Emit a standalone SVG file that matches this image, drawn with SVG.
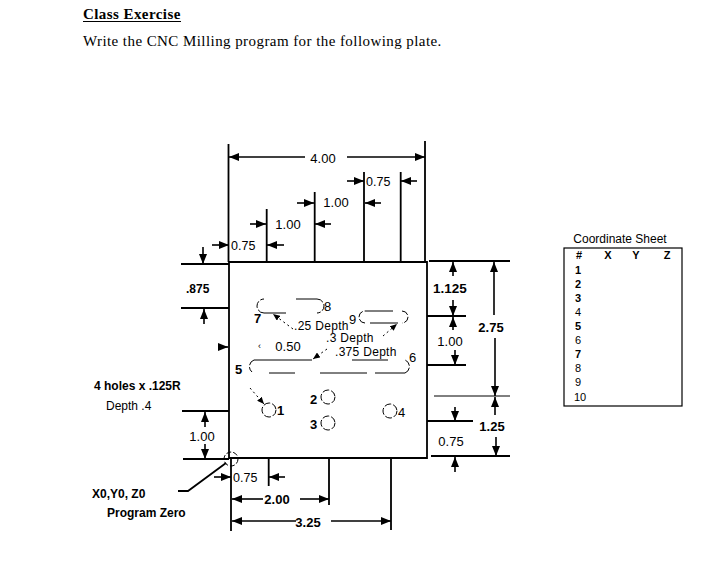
<svg xmlns="http://www.w3.org/2000/svg" width="710" height="566" viewBox="0 0 710 566">
<defs>
<marker id="a" viewBox="0 0 10 8" refX="10" refY="4" markerWidth="10" markerHeight="8" markerUnits="userSpaceOnUse" orient="auto-start-reverse"><path d="M0 0L10 4L0 8Z" fill="#000"/></marker>
<marker id="s" viewBox="0 0 7 6" refX="7" refY="3" markerWidth="7" markerHeight="6" markerUnits="userSpaceOnUse" orient="auto"><path d="M0 0L7 3L0 6Z" fill="#000"/></marker>
</defs>
<style>
text{font-family:"Liberation Sans",Arial,sans-serif;font-size:13px;fill:#000}
text.t{font-family:"Liberation Serif","Times New Roman",serif;font-size:15px;letter-spacing:.43px}
text.s9{font-size:9px}
text.s11{font-size:11px}
text.s12{font-size:12px}
text.dp{font-size:12px;letter-spacing:.3px}
text.s125{font-size:12.5px}
text.s135{font-size:13.5px}
.b{font-weight:bold}
.c{text-anchor:middle}
.l{stroke:#000;stroke-width:1.8;fill:none}
.f{stroke:#000;stroke-width:1;fill:none}
.d{stroke:#000;stroke-width:1.6;fill:none;marker-end:url(#a)}
.h{stroke:#000;stroke-width:1;fill:none;stroke-dasharray:7 2}
.o{stroke:#000;stroke-width:1;fill:none;stroke-dasharray:5 2}
.g{stroke:#000;stroke-width:1;fill:none;stroke-dasharray:2 3;marker-end:url(#s)}
</style>
<rect width="710" height="566" fill="#fff"/>
<g id="heading">
<text class="t b" x="83" y="19">Class Exercise</text>
<path d="M83 21.500H181" stroke="#000" stroke-width="1"/>
<text class="t" x="83" y="46">Write the CNC Milling program for the following plate.</text>
</g>
<g id="plate">
<path class="l" d="M229 262H427V458H229Z"/>
</g>
<g id="connectors">
<path class="l" d="M228.500 144V262M425 141V262M266.700 209V262M314.700 192V262M364 172V262M400.700 172V262"/>
<path class="l" d="M181 264H229M181 308H229M182 411H229M183 459H229"/>
<path class="l" d="M429 261H510M427 316H466M427 365H466M427 421H473M431 456H510"/>
<path class="f" d="M434 396H510"/>
<path class="l" d="M231 458V531M268.700 458V486M329 458V505M391 458V530"/>
<path class="d" d="M305 157H229"/><path class="d" d="M347 157H425"/>
<path class="d" d="M347 181H364"/><path class="d" d="M417 181H401"/>
<path class="d" d="M297 203H314"/><path class="d" d="M381 203H365"/>
<path class="d" d="M250 224H266"/><path class="d" d="M331 224H315"/>
<path class="d" d="M212 245H229"/><path class="d" d="M284 245H267"/>
<path class="d" d="M203 247V264"/><path class="d" d="M204 324V309"/>
<path class="d" d="M220 347H228"/>
<path class="d" d="M205 427V412"/><path class="d" d="M205 444V459"/>
<path class="d" d="M214 477H231"/><path class="d" d="M285 477H269"/>
<path class="d" d="M263 499H232"/><path class="d" d="M300 499H329"/>
<path class="d" d="M296 521H232"/><path class="d" d="M331 521H391"/>
<path class="d" d="M453 276V262"/><path class="d" d="M453 300V316"/>
<path class="d" d="M453 330V317"/><path class="d" d="M455 350V365"/>
<path class="d" d="M455 407V421"/><path class="d" d="M455 472V457"/>
<path class="d" d="M494 315V262"/><path class="d" d="M495 338V396"/>
<path class="d" d="M495 415V397"/><path class="d" d="M496 437V456"/>
<path class="l" d="M178 491H188L226 463"/>
<path class="f" d="M264 313H286M296 299H317M365 311H393M370 323H398"/>
<path class="f" d="M254 360H312M352 360H388M269 373H295M320 373H367M375 373H405"/>
<path class="g" d="M293 329L273 314"/>
<path class="g" d="M383 336L397 324"/>
<path class="g" d="M327 349L313 359"/>
<path class="g" d="M250 388L264 404"/>
<path class="h" d="M254 360A7 7 0 0 0 252 372M405 373A7 7 0 0 0 405 360"/>
<path class="h" d="M264 313A7 7 0 0 1 264 299M317 299A7 7 0 0 1 317 313M365 323A6 6 0 0 1 365 311M402 311A6 6 0 0 1 402 323"/>
</g>
<g id="origin"><circle class="o" cx="231" cy="459" r="7"/></g>
<g id="hole1"><circle class="h" cx="269" cy="410" r="7"/><text class="b" x="277" y="415">1</text></g>
<g id="hole2"><circle class="h" cx="328" cy="397" r="7"/><text class="b" x="310" y="404">2</text></g>
<g id="hole3"><circle class="h" cx="328" cy="423" r="7"/><text class="b" x="310" y="429">3</text></g>
<g id="hole4"><circle class="h" cx="390" cy="411" r="7"/><text x="398" y="417">4</text></g>
<g id="labels">
<text class="c" x="323" y="163">4.00</text>
<text class="s125" x="366" y="186">0.75</text>
<text class="c" x="336" y="207">1.00</text>
<text class="c" x="288" y="229">1.00</text>
<text class="s125" x="231" y="250">0.75</text>
<text class="b s12" x="186" y="293">.875</text>
<text class="b s135" x="433" y="293">1.125</text>
<text class="c" x="450" y="346">1.00</text>
<text class="b c" x="491" y="332">2.75</text>
<text class="b c" x="492" y="431">1.25</text>
<text class="c" x="451" y="446">0.75</text>
<text class="c" x="288" y="351">0.50</text>
<text class="s9" x="258" y="349">&#8249;</text>
<text class="b" x="254" y="323">7</text>
<text x="324" y="311">8</text>
<text x="349" y="324">9</text>
<text class="dp" x="294" y="330">.25 Depth</text>
<text class="dp" x="326" y="342">.3 Depth</text>
<text class="dp" x="335" y="356">.375 Depth</text>
<text class="b" x="235" y="374">5</text>
<text x="409" y="362">6</text>
<text class="b s12" x="94" y="390">4 holes x .125R</text>
<text class="s12" x="106" y="410">Depth .4</text>
<text class="c" x="202" y="441">1.00</text>
<text class="s125" x="233" y="482">0.75</text>
<text class="b c" x="277" y="504">2.00</text>
<text class="b c" x="308" y="527">3.25</text>
<text class="b s12" x="92" y="498">X0,Y0, Z0</text>
<text class="b s12" x="107" y="517">Program Zero</text>
</g>
<g id="coordinate-sheet">
<rect x="564" y="248" width="118" height="158" fill="none" stroke="#000" stroke-width="1.200"/>
<text class="c s12" x="620" y="243">Coordinate Sheet</text>
<text class="c b s11" x="579" y="259">#</text><text class="c b s11" x="608" y="259">X</text><text class="c b s11" x="636" y="259">Y</text><text class="c b s11" x="667" y="259">Z</text>
<text class="c b s11" x="578" y="274">1</text><text class="c b s11" x="578" y="288">2</text><text class="c b s11" x="578" y="302">3</text><text class="c s11" x="578" y="316">4</text><text class="c b s11" x="578" y="330">5</text><text class="c s11" x="578" y="344">6</text><text class="c b s11" x="578" y="358">7</text><text class="c s11" x="578" y="372">8</text><text class="c s11" x="578" y="386">9</text><text class="c s11" x="580" y="401">10</text>
</g>
</svg>
